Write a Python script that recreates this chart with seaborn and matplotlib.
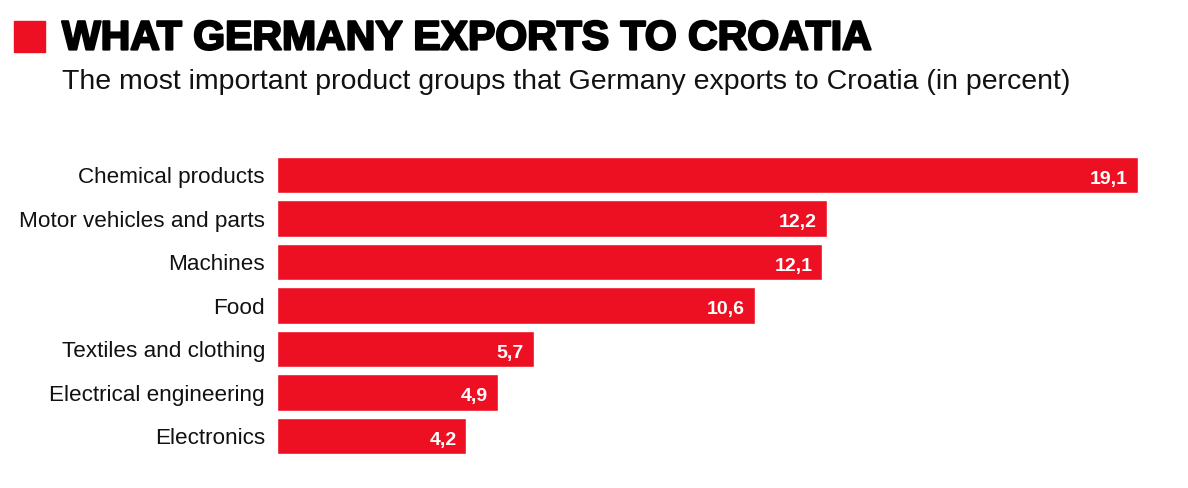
import seaborn as sns
import matplotlib.pyplot as plt
import matplotlib.patheffects as pe
import pandas as pd

categories = ["Chemical products", "Motor vehicles and parts", "Machines", "Food",
              "Textiles and clothing", "Electrical engineering", "Electronics"]
values = [19.1, 12.2, 12.1, 10.6, 5.7, 4.9, 4.2]
value_labels = ["19,1", "12,2", "12,1", "10,6", "5,7", "4,9", "4,2"]

red = "#ED1022"
df = pd.DataFrame({"group": categories, "share": values})

sns.set_style("white")
plt.rcParams["font.family"] = ["Liberation Sans", "DejaVu Sans"]

fig = plt.figure(figsize=(11.88, 4.88), dpi=100)
W, H = 1188, 488
ax = fig.add_axes([277 / W, 1 - 457.75 / H, (1138 - 277) / W, (457.75 - 153.25) / H])

sns.barplot(data=df, x="share", y="group", color=red, saturation=1, width=0.83,
            ax=ax, orient="h")
ax.set_xlim(0, 19.1)
ax.set_ylim(6.5, -0.5)
ax.set_xlabel("")
ax.set_ylabel("")
ax.set_xticks([])
ax.tick_params(axis="y", length=0, pad=8.6, labelsize=16.2, labelcolor="#111111")
for t in ax.get_yticklabels():
    t.set_verticalalignment("center_baseline")
sns.despine(ax=ax, left=True, bottom=True)

for i, (v, lab) in enumerate(zip(values, value_labels)):
    ax.text(v - 0.22, i + 0.05, lab, ha="right", va="center_baseline", color="white",
            fontsize=14, fontweight="bold")

# header
fig.patches.append(plt.Rectangle((14 / W, 1 - 52 / H), 31 / W, 31 / H,
                                 transform=fig.transFigure, color=red))
fig.text(62 / W, 1 - 38.5 / H, "WHAT GERMANY EXPORTS TO CROATIA", ha="left", va="center",
         fontsize=29.5, fontweight="bold", color="black",
         path_effects=[pe.withStroke(linewidth=1.6, foreground="black")])
fig.text(62 / W, 1 - 82 / H,
         "The most important product groups that Germany exports to Croatia (in percent)",
         ha="left", va="center", fontsize=20.5, color="#111111")

fig.savefig("out.png", dpi=100)
